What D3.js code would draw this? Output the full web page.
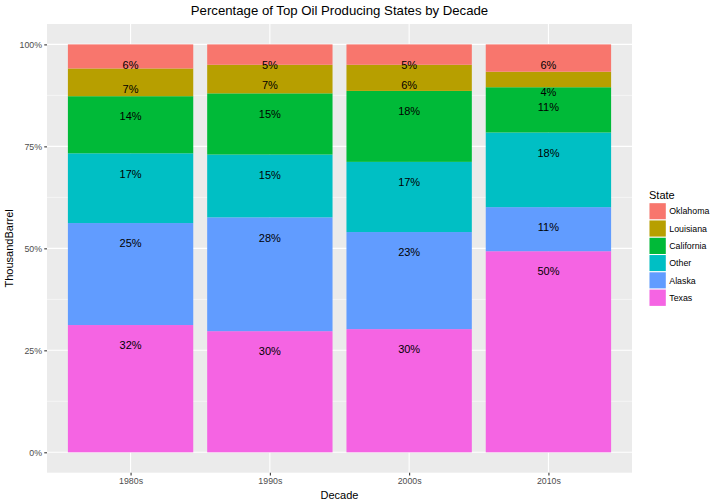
<!DOCTYPE html>
<html lang="en">
<head>
    <meta charset="utf-8">
    <title>Percentage of Top Oil Producing States by Decade</title>
    <script src="https://d3js.org/d3.v7.min.js"></script>
    <style>
        body { margin: 0; background: #fff; }
        text { font-family: "Liberation Sans", Arial, sans-serif; }
    </style>
</head>
<body>
    <svg id="chart" width="720" height="504"></svg>
    <script>
        // decades on the x axis
        const decades = ['1980s', '1990s', '2000s', '2010s'];
        // stacking order, bottom to top
        const states = ['Texas', 'Alaska', 'Other', 'California', 'Louisiana', 'Oklahoma'];
        // legend order (top to bottom)
        const legendStates = ['Oklahoma', 'Louisiana', 'California', 'Other', 'Alaska', 'Texas'];
        const stateColors = ['#F564E3', '#619CFF', '#00BFC4', '#00BA38', '#B79F00', '#F8766D'];

        // share of production per decade
        const texas = [0.312, 0.297, 0.302, 0.493];
        const alaska = [0.250, 0.279, 0.238, 0.108];
        const other = [0.171, 0.154, 0.172, 0.183];
        const california = [0.140, 0.150, 0.174, 0.111];
        const louisiana = [0.068, 0.070, 0.064, 0.038];
        const oklahoma = [0.059, 0.050, 0.050, 0.067];

        // printed percentage labels
        const texasLabels = [32, 30, 30, 50];
        const alaskaLabels = [25, 28, 23, 11];
        const otherLabels = [17, 15, 17, 18];
        const californiaLabels = [14, 15, 18, 11];
        const louisianaLabels = [7, 7, 6, 4];
        const oklahomaLabels = [6, 5, 5, 6];

        const yTicks = [0, 0.25, 0.5, 0.75, 1];
        const yMinorTicks = [0.125, 0.375, 0.625, 0.875];

        const shares = [texas, alaska, other, california, louisiana, oklahoma];
        const labels = [texasLabels, alaskaLabels, otherLabels, californiaLabels, louisianaLabels, oklahomaLabels];

        const panel = { left: 47, right: 632, top: 24, bottom: 472.7 };
        const svg = d3.select('#chart');

        // discrete scale with ggplot's 0.6 expansion on each side
        const x = d3.scaleLinear().domain([0.4, decades.length + 0.6]).range([panel.left, panel.right]);
        const y = d3.scaleLinear().domain([-0.05, 1.05]).range([panel.bottom, panel.top]);
        const color = d3.scaleOrdinal().domain(states).range(stateColors);
        const barWidth = (x(1) - x(0)) * 0.9;

        // panel background and grid
        svg.append('rect')
            .attr('x', panel.left).attr('y', panel.top)
            .attr('width', panel.right - panel.left).attr('height', panel.bottom - panel.top)
            .attr('fill', '#EBEBEB');

        svg.append('g').selectAll('line')
            .data(yMinorTicks).enter().append('line')
            .attr('x1', panel.left).attr('x2', panel.right)
            .attr('y1', d => y(d)).attr('y2', d => y(d))
            .attr('stroke', '#fff').attr('stroke-width', 0.53);

        svg.append('g').selectAll('line')
            .data(yTicks).enter().append('line')
            .attr('x1', panel.left).attr('x2', panel.right)
            .attr('y1', d => y(d)).attr('y2', d => y(d))
            .attr('stroke', '#fff').attr('stroke-width', 1.07);

        svg.append('g').selectAll('line')
            .data(decades).enter().append('line')
            .attr('x1', (d, i) => x(i + 1)).attr('x2', (d, i) => x(i + 1))
            .attr('y1', panel.top).attr('y2', panel.bottom)
            .attr('stroke', '#fff').attr('stroke-width', 1.07);

        // stacked bars
        let rows = decades.map((dec, i) => {
            let row = { decade: dec, idx: i };
            states.forEach((s, j) => { row[s] = shares[j][i]; });
            return row;
        });
        let series = d3.stack().keys(states)(rows);

        let barG = svg.append('g');
        series.forEach((s, j) => {
            barG.selectAll(null)
                .data(s).enter().append('rect')
                .attr('x', d => x(d.data.idx + 1) - barWidth / 2)
                .attr('width', barWidth)
                .attr('y', d => y(d[1]))
                .attr('height', d => y(d[0]) - y(d[1]))
                .attr('fill', color(s.key));
        });

        // percentage labels, placed a bit below each segment top
        let labelG = svg.append('g');
        series.forEach((s, j) => {
            labelG.selectAll(null)
                .data(s).enter().append('text')
                .attr('x', d => x(d.data.idx + 1))
                .attr('y', d => y(d[1] - 0.05))
                .attr('dy', '0.35em')
                .attr('text-anchor', 'middle')
                .attr('font-size', 11)
                .attr('fill', '#000')
                .text((d, i) => labels[j][i] + '%');
        });

        // axes
        let yAxis = svg.append('g')
            .attr('transform', `translate(${panel.left},0)`)
            .call(d3.axisLeft(y).tickValues(yTicks).tickFormat(d3.format('.0%')).tickSize(2.75).tickPadding(2.2));
        let xAxis = svg.append('g')
            .attr('transform', `translate(0,${panel.bottom})`)
            .call(d3.axisBottom(x).tickValues(d3.range(1, decades.length + 1))
                .tickFormat(d => decades[d - 1]).tickSize(2.75).tickPadding(2.2));
        for (let ax of [yAxis, xAxis]) {
            ax.select('.domain').remove();
            ax.selectAll('.tick line').attr('stroke', '#333333').attr('stroke-width', 1.07);
            ax.selectAll('.tick text')
                .attr('fill', '#4D4D4D')
                .attr('font-size', 8.8)
                .attr('font-family', '"Liberation Sans", Arial, sans-serif');
        }

        // titles
        svg.append('text')
            .attr('x', (panel.left + panel.right) / 2).attr('y', 15)
            .attr('text-anchor', 'middle').attr('font-size', 13.2).attr('fill', '#000')
            .text('Percentage of Top Oil Producing States by Decade');
        svg.append('text')
            .attr('x', (panel.left + panel.right) / 2).attr('y', 499)
            .attr('text-anchor', 'middle').attr('font-size', 11).attr('fill', '#000')
            .text('Decade');
        svg.append('text')
            .attr('transform', `translate(13,${(panel.top + panel.bottom) / 2}) rotate(-90)`)
            .attr('text-anchor', 'middle').attr('font-size', 11).attr('fill', '#000')
            .text('ThousandBarrel');

        // legend
        const keySize = 17.28;
        let legend = svg.append('g').attr('transform', 'translate(649,202.7)');
        legend.append('text')
            .attr('x', 0).attr('y', -4)
            .attr('font-size', 11).attr('fill', '#000')
            .text('State');
        let keys = legend.selectAll('g')
            .data(legendStates).enter().append('g')
            .attr('transform', (d, i) => `translate(0,${i * keySize})`);
        keys.append('rect')
            .attr('width', keySize).attr('height', keySize)
            .attr('fill', '#F2F2F2').attr('stroke', '#fff');
        keys.append('rect')
            .attr('x', 0.5).attr('y', 0.5)
            .attr('width', keySize - 1).attr('height', keySize - 1)
            .attr('fill', d => color(d));
        keys.append('text')
            .attr('x', keySize + 3).attr('y', keySize / 2)
            .attr('dy', '0.35em')
            .attr('font-size', 8.8).attr('fill', '#000')
            .text(d => d);
    </script>
</body>
</html>
